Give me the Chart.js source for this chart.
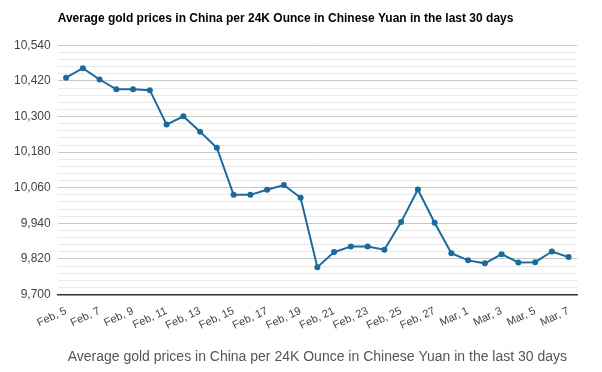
<!DOCTYPE html>
<html>
<head>
<meta charset="utf-8">
<script src="https://cdn.jsdelivr.net/npm/chart.js@4.4.1/dist/chart.umd.min.js"></script>
<style>
  html, body { margin: 0; padding: 0; background: #fff; }
  #wrap { width: 602px; height: 372px; }
</style>
</head>
<body>
<div id="wrap"><canvas id="gold_chart" width="602" height="372"></canvas></div>
<script>
// chart data
var dayLabels = ['Feb, 5','Feb, 6','Feb, 7','Feb, 8','Feb, 9','Feb, 10','Feb, 11','Feb, 12',
  'Feb, 13','Feb, 14','Feb, 15','Feb, 16','Feb, 17','Feb, 18','Feb, 19','Feb, 20',
  'Feb, 21','Feb, 22','Feb, 23','Feb, 24','Feb, 25','Feb, 26','Feb, 27','Feb, 28',
  'Mar, 1','Mar, 2','Mar, 3','Mar, 4','Mar, 5','Mar, 6','Mar, 7'];

var goldPrices = [10431,10463,10425,10392,10392,10389,10273,10301,10249,10195,
  10036,10036,10053,10069,10026,9792,9843,9862,9862,9851,
  9944,10054,9942,9839,9815,9805,9836,9808,9809,9845,9826];

var yMin = 9700, yMax = 10540, yMajor = 120, yMinor = 24;

var titleText = 'Average gold prices in China per 24K Ounce in Chinese Yuan in the last 30 days';

const config = {
  type: 'line',
  data: {
    labels: dayLabels,
    datasets: [{
      label: 'Gold price',
      data: goldPrices,
      borderColor: '#1a6a9c',
      backgroundColor: '#1a6a9c',
      borderWidth: 2,
      pointRadius: 3,
      pointBorderWidth: 0,
      tension: 0,
      fill: false
    }]
  },
  options: {
    responsive: false,
    animation: false,
    layout: { padding: { left: 7, right: 25, top: 0, bottom: 6 } },
    plugins: {
      legend: { display: false },
      tooltip: { enabled: false },
      title: {
        display: true,
        text: titleText,
        align: 'start',
        fullSize: false,
        color: '#000',
        font: { family: 'Liberation Sans', size: 12, weight: 'bold' },
        padding: { top: 11, bottom: 20 }
      }
    },
    scales: {
      x: {
        offset: true,
        grid: { display: false },
        border: { display: true, color: '#333', width: 1.5 },
        ticks: {
          autoSkip: false,
          maxRotation: 25,
          minRotation: 25,
          color: '#444',
          font: { family: 'Liberation Sans', size: 11 },
          padding: 2,
          callback: function(v, i) { return i % 2 === 0 ? dayLabels[i] : ''; }
        },
        title: {
          display: true,
          text: titleText,
          color: '#555',
          font: { family: 'Liberation Sans', size: 14 },
          padding: { top: 15, bottom: 0 }
        }
      },
      y: {
        min: yMin,
        max: yMax,
        border: { display: false },
        grid: {
          drawTicks: false,
          lineWidth: 1,
          color: function(ctx) {
            return (ctx.tick.value - yMin) % yMajor === 0 ? '#c8c8c8' : '#e8e8e8';
          }
        },
        ticks: {
          stepSize: yMinor,
          autoSkip: false,
          padding: 7,
          color: '#444',
          font: { family: 'Liberation Sans', size: 12 },
          callback: function(v) {
            return (v - yMin) % yMajor === 0 ? v.toLocaleString('en-US') : '';
          }
        }
      }
    }
  }
};

window.onload = function() {
  var ctx = document.getElementById('gold_chart').getContext('2d');
  window.goldChart = new Chart(ctx, config);
};
</script>
</body>
</html>
